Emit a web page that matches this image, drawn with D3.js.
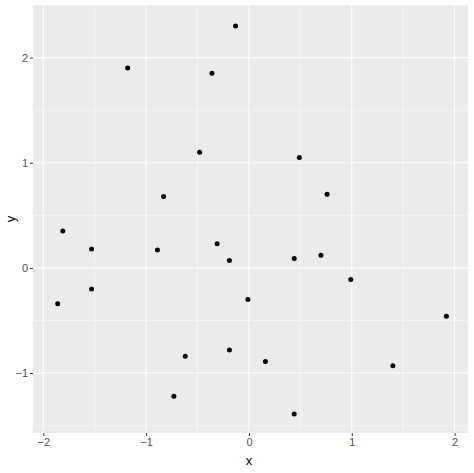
<!DOCTYPE html>
<html>
<head>
<meta charset="utf-8">
<script src="https://cdn.jsdelivr.net/npm/d3@7"></script>
<style>body{margin:0;background:#fff}</style>
</head>
<body>
<div id="chart"></div>
<script>
const xs = [-1.86,-1.81,-1.53,-1.53,-1.18,-0.89,-0.83,-0.73,-0.62,-0.48,-0.36,-0.31,-0.19,-0.19,-0.13,-0.01,0.16,0.44,0.44,0.49,0.70,0.76,0.99,1.40,1.92];
const ys = [-0.34,0.35,0.18,-0.20,1.90,0.17,0.68,-1.22,-0.84,1.10,1.85,0.23,0.07,-0.78,2.30,-0.30,-0.89,-1.39,0.09,1.05,0.12,0.70,-0.11,-0.93,-0.46];
const xTicks = [-2,-1,0,1,2];
const yTicks = [-1,0,1,2];

const width = 474, height = 473;
const margin = {top: 5, right: 6, bottom: 40, left: 33};

const svg = d3.select("#chart").append("svg")
  .attr("width", width).attr("height", height)
  .style("font-family", "Arial, 'Liberation Sans', sans-serif");

const x = d3.scaleLinear().domain([-2.10, 2.13]).range([margin.left, width - margin.right]);
const y = d3.scaleLinear().domain([-1.57, 2.50]).range([height - margin.bottom, margin.top]);

// panel
svg.append("rect")
  .attr("x", margin.left).attr("y", margin.top)
  .attr("width", width - margin.left - margin.right)
  .attr("height", height - margin.top - margin.bottom)
  .attr("fill", "#ebebeb");

// minor grid
const xMinor = xTicks.slice(0, -1).map(d => d + 0.5);
const yMinor = [-1.5, ...yTicks.map(d => d + 0.5)];
svg.selectAll(".xminor").data(xMinor).enter().append("line")
  .attr("x1", d => x(d)).attr("x2", d => x(d))
  .attr("y1", margin.top).attr("y2", height - margin.bottom)
  .attr("stroke", "#fff").attr("stroke-width", 0.5);
svg.selectAll(".yminor").data(yMinor).enter().append("line")
  .attr("y1", d => y(d)).attr("y2", d => y(d))
  .attr("x1", margin.left).attr("x2", width - margin.right)
  .attr("stroke", "#fff").attr("stroke-width", 0.5);

// major grid
svg.selectAll(".xmajor").data(xTicks).enter().append("line")
  .attr("x1", d => x(d)).attr("x2", d => x(d))
  .attr("y1", margin.top).attr("y2", height - margin.bottom)
  .attr("stroke", "#fff").attr("stroke-width", 1.1);
svg.selectAll(".ymajor").data(yTicks).enter().append("line")
  .attr("y1", d => y(d)).attr("y2", d => y(d))
  .attr("x1", margin.left).attr("x2", width - margin.right)
  .attr("stroke", "#fff").attr("stroke-width", 1.1);

// axes
const xAxis = svg.append("g")
  .attr("transform", `translate(0,${height - margin.bottom})`)
  .call(d3.axisBottom(x).tickValues(xTicks).tickSize(3).tickPadding(2).tickFormat(d3.format("d")));
const yAxis = svg.append("g")
  .attr("transform", `translate(${margin.left},0)`)
  .call(d3.axisLeft(y).tickValues(yTicks).tickSize(3).tickPadding(2).tickFormat(d3.format("d")));
[xAxis, yAxis].forEach(g => {
  g.select(".domain").remove();
  g.selectAll(".tick line").attr("stroke", "#333");
  g.selectAll(".tick text").attr("fill", "#4d4d4d").style("font-size", "11px");
});

// points
svg.selectAll("circle").data(xs).enter().append("circle")
  .attr("cx", d => x(d)).attr("cy", (d, i) => y(ys[i]))
  .attr("r", 2.5).attr("fill", "#000");

// labels
svg.append("text").attr("x", x(0)).attr("y", height - 8)
  .attr("text-anchor", "middle").style("font-size", "13px").text("x");
svg.append("text")
  .attr("transform", `translate(15,${(margin.top + height - margin.bottom) / 2}) rotate(-90)`)
  .attr("text-anchor", "middle").style("font-size", "13px").text("y");
</script>
</body>
</html>
